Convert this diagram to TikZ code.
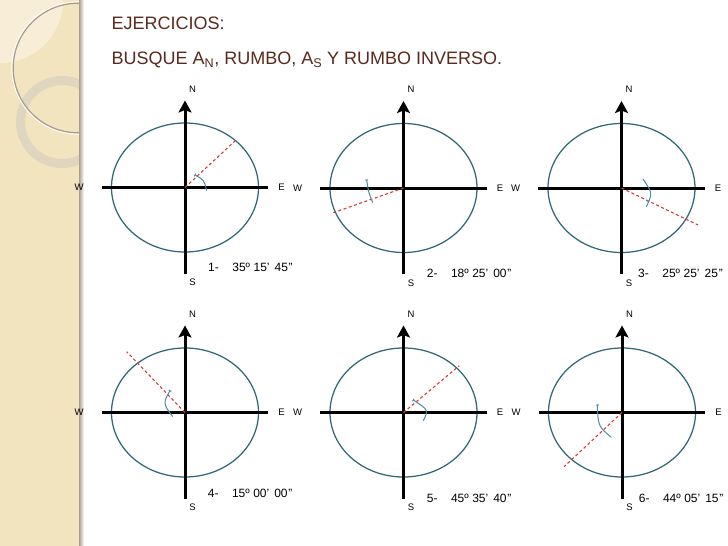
\documentclass[tikz,border=0pt]{standalone}
\usepackage{fontspec}
\setmainfont{Liberation Sans}
\usetikzlibrary{arrows.meta,calc}
\definecolor{titlecol}{RGB}{90,42,30}
\definecolor{orbitcol}{RGB}{47,104,122}
\definecolor{arccol}{RGB}{80,140,160}
\definecolor{bearcol}{RGB}{215,60,55}
\definecolor{stripcol}{RGB}{243,228,192}
\definecolor{striplight}{RGB}{248,238,216}
\definecolor{ringcol}{RGB}{224,213,190}
\definecolor{loopcol}{RGB}{165,156,136}
\definecolor{edgecol}{RGB}{170,160,140}
\tikzset{
  axisline/.style={line width=3pt, draw=black},
  orbit/.style={draw=orbitcol, line width=1.25pt},
  bearing/.style={draw=bearcol, dash pattern=on 3pt off 2.5pt, line width=1.1pt},
  angarc/.style={draw=arccol, line width=1pt},
  dirlbl/.style={font=\fontsize{9.5}{11}\selectfont, inner sep=0pt},
  vallbl/.style={font=\fontsize{12}{14}\selectfont, inner sep=0pt, anchor=west},
  titletext/.style={font=\fontsize{18}{22}\selectfont, text=titlecol, inner sep=0pt, anchor=base west},
}
\newcommand\drawcompass[3]{%
  \begin{scope}[shift={(#2,#3)}]
    \coordinate (c#1) at (0,0);
    \coordinate (w#1) at (-83.5,0);
    \coordinate (e#1) at (83,0);
    \coordinate (s#1) at (0,86);
    \coordinate (n#1) at (0,-87);
    \draw[orbit] (c#1) ellipse [x radius=73.5, y radius=64.5];
    \draw[axisline] (w#1) -- (e#1);
    \draw[axisline, -{Stealth[length=12pt,width=13pt,inset=2.5pt]}] (s#1) -- (n#1);
    \node[dirlbl] (nl#1) at (7.5,-98.5) {N};
    \node[dirlbl] (sl#1) at (7.5,95) {S};
    \node[dirlbl] (wl#1) at (-106,0) {W};
    \node[dirlbl] (el#1) at (96.5,0) {E};
  \end{scope}}
\newcommand\angmark[6]{% id, start, control, end, tick point, tick half-vector
  \coordinate (as#1) at #2;
  \coordinate (ae#1) at #4;
  \coordinate (at#1) at #5;
  \draw[angarc] (as#1) .. controls #3 .. (ae#1);
  \draw[angarc] ($(at#1)+#6$) -- ($(at#1)-#6$);}
\begin{document}
\begin{tikzpicture}[x=1pt,y=-1pt]
\useasboundingbox (0,0) rectangle (728,546);
\fill[white] (0,0) rectangle (728,546);
% decorative strip
\fill[stripcol] (0,0) rectangle (80,546);
\begin{scope}
  \clip (0,0) rectangle (80,546);
  \fill[striplight] (0,0) -- (63,0) arc[start angle=0, end angle=90, radius=63] -- cycle;
  \fill[ringcol, even odd rule] (62,122) circle[radius=46] (62,122) circle[radius=37];
  \draw[white, line width=1.2pt] (78,68) circle[radius=66];
  \draw[loopcol, line width=1.2pt] (78,68) circle[radius=64.8];
\end{scope}
\shade[left color=edgecol, right color=white] (79,0) rectangle (84,546);
% title
\node[titletext] (t1) at (111.5,29.5) {EJERCICIOS:};
\node[titletext] (t2) at (111.5,64.5) {BUSQUE A\textsubscript{N}, RUMBO, A\textsubscript{S} Y RUMBO INVERSO.};
% compasses
\drawcompass{1}{185}{187.5}
\drawcompass{2}{403.5}{188}
\drawcompass{3}{621.5}{188}
\drawcompass{4}{185}{412.5}
\drawcompass{5}{403.5}{412.5}
\drawcompass{6}{622}{412.5}
% bearings
\coordinate (d1) at (236,140);
\coordinate (d2) at (333.3,212.7);
\coordinate (d3) at (698,225);
\coordinate (d4) at (126.7,351.7);
\coordinate (d5) at (459.3,365.7);
\coordinate (d6) at (564,466.7);
\foreach \i in {1,...,6} { \draw[bearing] (c\i) -- (d\i); }
% angle marks
\angmark{1}{(195,175)}{(204.1,180)}{(206.7,190.7)}{(195,175)}{(-0.7,1.3)}
\angmark{2}{(366.7,180)}{(368.4,191.8)}{(372.7,202.7)}{(366.7,180)}{(-1.4,0.2)}
\angmark{3}{(643,179)}{(652.7,193.4)}{(646.3,206.7)}{(647.5,201)}{(1.3,0.65)}
\angmark{4}{(170,390.7)}{(162.9,403.2)}{(172.7,416.7)}{(170,390.7)}{(1.3,0.75)}
\angmark{5}{(413.3,400)}{(428.6,409.9)}{(423.3,420.7)}{(413.3,400)}{(-0.8,1.25)}
\angmark{6}{(597.3,405)}{(598.2,426.3)}{(611.3,437.3)}{(597.3,405)}{(-1.5,0.06)}
% values
\newcommand\val[4]{#1-\hspace{13.5pt}#2º\hspace{3.5pt}#3’\hspace{5pt}#4\hspace{0.8pt}”}
\node[vallbl] (v1) at (208,267.5) {\val{1}{35}{15}{45}};
\node[vallbl] (v2) at (426.7,273.3) {\val{2}{18}{25}{00}};
\node[vallbl] (v3) at (638,273.3) {\val{3}{25}{25}{25}};
\node[vallbl] (v4) at (207.7,493.5) {\val{4}{15}{00}{00}};
\node[vallbl] (v5) at (426.7,498.3) {\val{5}{45}{35}{40}};
\node[vallbl] (v6) at (638.7,498) {\val{6}{44}{05}{15}};
\end{tikzpicture}
\end{document}
